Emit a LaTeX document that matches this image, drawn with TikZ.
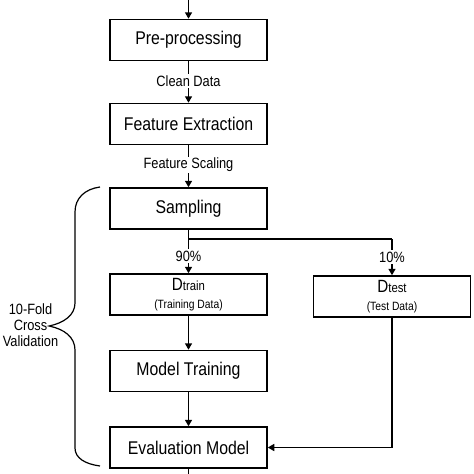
\documentclass[tikz,border=0pt]{standalone}
\usepackage{fontspec}
\setmainfont[FakeStretch=0.86]{Liberation Sans}
\usetikzlibrary{arrows.meta}
\begin{document}
\begin{tikzpicture}[x=1pt,y=-1pt,
  box/.style={draw, line width=1.5pt, minimum width=157pt, minimum height=41pt, inner sep=0pt,
    font=\fontsize{18.4}{20}\selectfont},
  arr/.style={line width=1.5pt, -{Triangle[width=7pt,length=6.5pt]}},
  ln/.style={line width=1.5pt},
  lbl/.style={fill=white, inner sep=1.5pt, font=\fontsize{14.9}{16}\selectfont}]
\useasboundingbox (0,0) rectangle (474,474);
\node[box] (pre) at (188.5,40) {Pre-processing};
\node[box] (fe) at (188.5,124) {Feature Extraction};
\node[box] (samp) at (188.5,208.5) {Sampling};
\node[box, align=center] (dtrain) at (188.5,294.5) {{\fontsize{17.7}{17.7}\selectfont D}{\fontsize{13.2}{13.2}\selectfont train}\\[-2pt]{\fontsize{12}{12}\selectfont (Training Data)}};
\node[box, align=center] (dtest) at (392,296.5) {{\fontsize{17.7}{17.7}\selectfont D}{\fontsize{13.2}{13.2}\selectfont test}\\[-2pt]{\fontsize{12}{12}\selectfont (Test Data)}};
\node[box] (mt) at (188.5,371) {Model Training};
\node[box] (ev) at (188.5,447.5) {Evaluation Model};
\coordinate (top) at (188.5,0);
\coordinate (bot) at (188.5,474);
\coordinate (br1) at (188.5,239);
\coordinate (br2) at (392,239);
\draw[arr] (top) -- (pre.north);
\draw[arr] (pre.south) -- node[lbl, pos=0.48] (cd) {Clean Data} (fe.north);
\draw[arr] (fe.south) -- node[lbl, pos=0.47] (fs) {Feature Scaling} (samp.north);
\draw[ln] (samp.south) -- (br1) -- (br2);
\draw[arr] (br1) -- node[lbl, pos=0.5] (p90) {90\%} (dtrain.north);
\draw[arr] (br2) -- node[lbl, pos=0.5] (p10) {10\%} (dtest.north);
\draw[arr] (dtrain.south) -- (mt.north);
\draw[arr] (mt.south) -- (ev.north);
\draw[arr] (dtest.south) |- (ev.east);
\draw[ln] (ev.south) -- (bot);
\draw[line width=1.2pt] (100,187) .. controls (85,189) and (75,198) .. (75,212) -- (75,303)
  .. controls (75,315) and (64,323) .. (49,326)
  .. controls (64,329) and (75,337) .. (75,350) -- (75,448)
  .. controls (75,458) and (85,464) .. (100,466);
\node[align=center, inner sep=0pt, font=\fontsize{14.9}{15.8}\selectfont] (cv) at (30.5,325) {10-Fold\\Cross\\Validation};
\end{tikzpicture}
\end{document}
